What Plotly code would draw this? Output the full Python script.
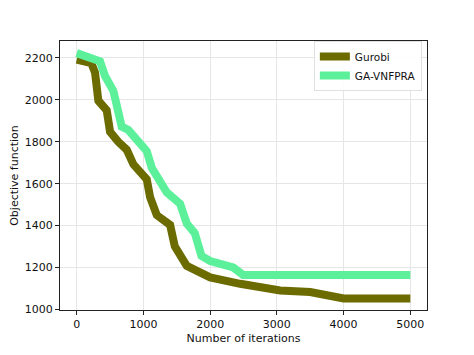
import plotly.graph_objects as go

# Data
gurobi_x = [0, 220, 275, 325, 450, 500, 620, 750, 850, 1050, 1100, 1200, 1400, 1470, 1650, 2000, 2450, 2750, 3050, 3500, 4000, 5000]
gurobi_y = [2192, 2176, 2130, 1996, 1950, 1848, 1801, 1762, 1692, 1621, 1536, 1450, 1403, 1301, 1208, 1153, 1122, 1106, 1090, 1083, 1052, 1052]

ga_x = [0, 350, 425, 550, 675, 775, 1050, 1125, 1350, 1550, 1650, 1770, 1870, 2000, 2345, 2495, 5000]
ga_y = [2223, 2184, 2114, 2043, 1872, 1856, 1755, 1676, 1559, 1504, 1410, 1364, 1255, 1231, 1200, 1164, 1164]

x_ticks = [0, 1000, 2000, 3000, 4000, 5000]
y_ticks = [1000, 1200, 1400, 1600, 1800, 2000, 2200]

FONT = "DejaVu Sans"

fig = go.Figure()
fig.add_trace(go.Scatter(x=gurobi_x, y=gurobi_y, mode="lines", name="Gurobi",
                         line=dict(color="#6b6b00", width=8)))
fig.add_trace(go.Scatter(x=ga_x, y=ga_y, mode="lines", name="GA-VNFPRA",
                         line=dict(color="#5cf09a", width=8)))

axis_common = dict(showline=True, linecolor="#222222", linewidth=1.2, mirror=True,
                   showgrid=True, gridcolor="#e6e6e6", gridwidth=1,
                   ticks="outside", ticklen=4, tickcolor="#222222",
                   tickfont=dict(family=FONT, size=11, color="#111111"),
                   zeroline=False)

fig.update_xaxes(range=[-250, 5250], tickvals=x_ticks,
                 title=dict(text="Number of iterations", font=dict(family=FONT, size=11, color="#111111"), standoff=4),
                 **axis_common)
fig.update_yaxes(range=[997, 2281], tickvals=y_ticks,
                 title=dict(text="Objective function", font=dict(family=FONT, size=11, color="#111111"), standoff=3),
                 **axis_common)

fig.update_layout(
    width=474, height=355,
    margin=dict(l=60, r=47, t=41, b=40),
    paper_bgcolor="white", plot_bgcolor="white",
    font=dict(family=FONT, size=11, color="#111111"),
    legend=dict(x=0.986, y=1.0, xanchor="right", yanchor="top",
                bgcolor="rgba(255,255,255,0.9)", bordercolor="#e0e0e0", borderwidth=1,
                font=dict(family=FONT, size=10.5), tracegroupgap=0, itemwidth=30),
    showlegend=True,
)

fig.write_html("out.html")
